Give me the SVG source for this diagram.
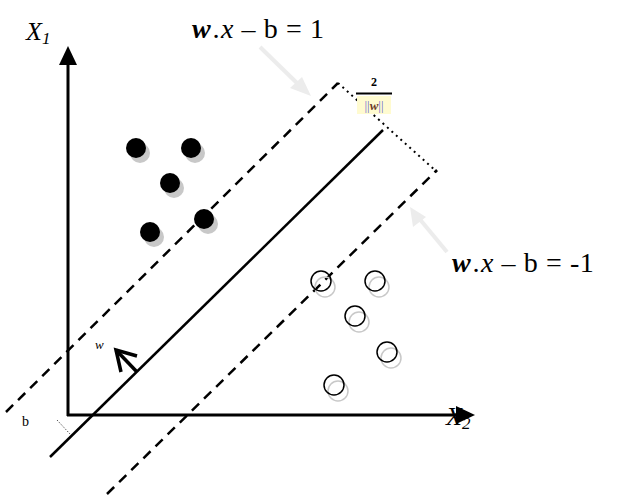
<svg xmlns="http://www.w3.org/2000/svg" width="637" height="496" viewBox="0 0 637 496">
<style>
.t{font-family:"Liberation Serif","Times New Roman",serif;fill:#000}
.eq{font-size:28px;letter-spacing:0.6px}
.ax{stroke:#000;stroke-width:3;fill:none}
.dash{stroke:#000;stroke-width:2.5;stroke-dasharray:10 7;fill:none}
.dot{stroke:#000;stroke-width:2;stroke-dasharray:2 4;fill:none}
.hint{stroke:#ececec;stroke-width:4;fill:none}
.fp{fill:#000}
.fs{fill:#c8c8c8}
.op{fill:none;stroke:#000;stroke-width:1.5}
.os{fill:none;stroke:#c8c8c8;stroke-width:1.5}
</style>
<rect width="637" height="496" fill="#fff"/>
<g id="connectors">
<line class="ax" x1="68" y1="416" x2="68" y2="62"/>
<polygon points="68,46 59,65 77,65" fill="#000"/>
<line class="ax" x1="67" y1="415" x2="458" y2="415"/>
<polygon points="475,415 456,406 456,424" fill="#000"/>
<line x1="50" y1="457" x2="383" y2="130" stroke="#000" stroke-width="2.5"/>
<line class="dash" x1="6" y1="412" x2="338" y2="83"/>
<line class="dash" x1="107" y1="494" x2="437" y2="170"/>
<line class="dot" x1="338" y1="83" x2="437" y2="172"/>
<line x1="57" y1="420" x2="70" y2="434" stroke="#555" stroke-width="1" stroke-dasharray="1.5 1.5"/>
<g id="w-arrow" stroke="#000" stroke-width="3.5" fill="none" stroke-linecap="butt">
<line x1="137" y1="372" x2="116" y2="350"/>
<polyline points="121,372 116,350 137,356"/>
</g>
<g id="hint1"><line class="hint" x1="260" y1="47" x2="300" y2="86"/><polygon points="311,96 290,88 302,77" fill="#ececec"/></g>
<g id="hint2"><line class="hint" x1="447" y1="252" x2="418" y2="217"/><polygon points="410,207 413,227 426,217" fill="#ececec"/></g>
</g>
<g id="class-positive">
<circle class="fs" cx="140" cy="153" r="10"/><circle class="fp" cx="136" cy="148" r="10"/>
<circle class="fs" cx="195" cy="153" r="10"/><circle class="fp" cx="191" cy="148" r="10"/>
<circle class="fs" cx="174" cy="188" r="10"/><circle class="fp" cx="170" cy="183" r="10"/>
<circle class="fs" cx="208" cy="224" r="10"/><circle class="fp" cx="204" cy="219" r="10"/>
<circle class="fs" cx="154" cy="237" r="10"/><circle class="fp" cx="150" cy="232" r="10"/>
</g>
<g id="class-negative">
<circle class="os" cx="325" cy="287" r="10"/><circle class="op" cx="321" cy="281" r="10"/>
<circle class="os" cx="379" cy="287" r="10"/><circle class="op" cx="375" cy="281" r="10"/>
<circle class="os" cx="359" cy="322" r="10"/><circle class="op" cx="355" cy="316" r="10"/>
<circle class="os" cx="391" cy="358" r="10"/><circle class="op" cx="387" cy="352" r="10"/>
<circle class="os" cx="338" cy="391" r="10"/><circle class="op" cx="334" cy="385" r="10"/>
</g>
<g id="labels">
<text class="t" x="26" y="40" font-size="26" font-style="italic">X<tspan font-size="17" dy="4">1</tspan></text>
<text class="t" x="446" y="425" font-size="26" font-style="italic">X<tspan font-size="17" dy="4">2</tspan></text>
<text class="t" x="22" y="426" font-size="14">b</text>
<text class="t" x="95" y="349" font-size="13" font-style="italic" fill="#222">w</text>
<text class="t eq" x="192" y="38"><tspan font-weight="bold" font-style="italic">w</tspan><tspan font-style="italic" dx="2">.x</tspan> – b = 1</text>
<text class="t eq" x="452" y="272"><tspan font-weight="bold" font-style="italic">w</tspan><tspan font-style="italic" dx="2">.x</tspan> – b = -1</text>
</g>
<g id="fraction">
<text class="t" x="374" y="86" font-size="12" font-weight="bold" text-anchor="middle" fill="#1a3a6a">2</text>
<line x1="356" y1="93.5" x2="392" y2="93.5" stroke="#000" stroke-width="2"/>
<rect x="357" y="96" width="34" height="18" fill="#fffbd0"/>
<text x="374" y="110" font-size="13" text-anchor="middle" font-family="Liberation Serif,serif" fill="#6a6ad0">||<tspan font-weight="bold" font-style="italic" fill="#6a3a2a">w</tspan>||</text>
</g>
</svg>
